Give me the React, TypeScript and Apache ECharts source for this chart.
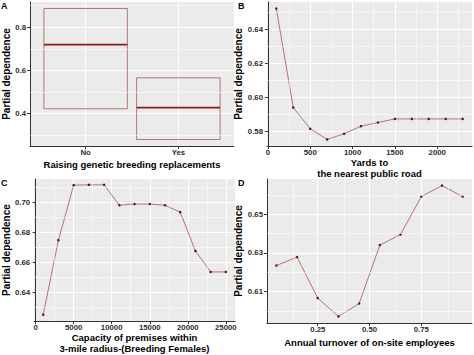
import React, { useEffect, useRef } from "react";
import * as echarts from "echarts";

// Panel A: raising genetic breeding replacements
const categoriesA = ["No", "Yes"];
const boxLowA = [0.423, 0.281];
const boxHighA = [0.886, 0.566];
const boxMidA = [0.719, 0.428];

// Panel B: yards to the nearest public road
const yardsB = [100, 300, 500, 700, 900, 1100, 1300, 1500, 1700, 1900, 2100, 2300];
const pdB = [0.6524, 0.5939, 0.5814, 0.5751, 0.5784, 0.5829, 0.5851, 0.5872, 0.5872, 0.5872, 0.5872, 0.5872];

// Panel C: capacity of premises within 3-mile radius
const capacityC = [1000, 3000, 5000, 7000, 9000, 11000, 13000, 15000, 17000, 19000, 21000, 23000, 25000];
const pdC = [0.6253, 0.675, 0.7117, 0.7119, 0.7119, 0.6983, 0.6991, 0.6991, 0.6983, 0.6937, 0.6678, 0.6538, 0.6538];

// Panel D: annual turnover of on-site employees
const turnoverD = [0.05, 0.15, 0.25, 0.35, 0.45, 0.55, 0.65, 0.75, 0.85, 0.95];
const pdD = [0.6234, 0.6278, 0.6066, 0.5971, 0.6038, 0.634, 0.6395, 0.6591, 0.6648, 0.6591];

// Tick labels
const yTicksA = [0.4, 0.6, 0.8];
const yMinorA = [0.3, 0.5, 0.7, 0.9];
const xTicksA = [1, 2];
const yTicksB = [0.58, 0.6, 0.62, 0.64];
const yMinorB = [0.57, 0.59, 0.61, 0.63, 0.65];
const xTicksB = [0, 500, 1000, 1500, 2000];
const xMinorB = [250, 750, 1250, 1750, 2250];
const yTicksC = [0.64, 0.66, 0.68, 0.7];
const yMinorC = [0.63, 0.65, 0.67, 0.69, 0.71];
const xTicksC = [0, 5000, 10000, 15000, 20000, 25000];
const xMinorC = [2500, 7500, 12500, 17500, 22500];
const yTicksD = [0.61, 0.63, 0.65];
const yMinorD = [0.6, 0.62, 0.64, 0.66];
const xTicksD = [0.25, 0.5, 0.75];
const xMinorD = [0.125, 0.375, 0.625, 0.875];

const FONT = "'Liberation Sans', Arial, sans-serif";
const TICK_COLOR = "#2b2b2b";
const TITLE_SIZE = 9.5;
const LINE_COLOR = "#B8736E";
const POINT_COLOR = "#4A1C1C";

function xAxisOf(idx: number, min: number, max: number, ticks: number[], name: string, nameGap: number, fmt: (v: number) => string) {
  return {
    type: "value",
    gridIndex: idx,
    min,
    max,
    name,
    nameLocation: "middle",
    nameGap,
    nameTextStyle: { fontFamily: FONT, fontWeight: "bold", fontSize: TITLE_SIZE, color: "#000", lineHeight: 11 },
    axisLine: { show: true, lineStyle: { color: "#333", width: 1 } },
    axisTick: { show: true, length: 3, lineStyle: { color: "#333" }, customValues: ticks },
    axisLabel: { customValues: ticks, formatter: fmt, fontFamily: FONT, fontWeight: "bold", fontSize: 7.8, color: TICK_COLOR, margin: 2 },
    splitLine: { show: true, lineStyle: { color: "#ffffff", width: 1 } },
  };
}

function yAxisOf(idx: number, min: number, max: number, ticks: number[], fmt: (v: number) => string) {
  return {
    type: "value",
    gridIndex: idx,
    min,
    max,
    name: "Partial dependence",
    nameLocation: "middle",
    nameRotate: 90,
    nameGap: 17,
    nameTextStyle: { fontFamily: FONT, fontWeight: "bold", fontSize: 10, color: "#000" },
    axisLine: { show: true, lineStyle: { color: "#333", width: 1 } },
    axisTick: { show: true, length: 3, lineStyle: { color: "#333" }, customValues: ticks },
    axisLabel: { customValues: ticks, formatter: fmt, fontFamily: FONT, fontWeight: "bold", fontSize: 7.8, color: TICK_COLOR, margin: 4 },
    splitLine: { show: true, lineStyle: { color: "#ffffff", width: 1 } },
  };
}

function minorGrid(idx: number, xMinor: number[], yMinor: number[]) {
  return {
    type: "line",
    xAxisIndex: idx,
    yAxisIndex: idx,
    data: [],
    z: 1,
    silent: true,
    markLine: {
      silent: true,
      symbol: ["none", "none"],
      label: { show: false },
      lineStyle: { color: "#ffffff", width: 0.5, type: "solid" },
      emphasis: { disabled: true },
      data: [...xMinor.map((v) => ({ xAxis: v })), ...yMinor.map((v) => ({ yAxis: v }))],
    },
  };
}

function lineSeries(idx: number, xs: number[], ys: number[]) {
  return {
    type: "line",
    xAxisIndex: idx,
    yAxisIndex: idx,
    z: 3,
    data: xs.map((x, i) => [x, ys[i]]),
    symbol: "circle",
    symbolSize: 2.5,
    showSymbol: true,
    itemStyle: { color: POINT_COLOR },
    lineStyle: { color: LINE_COLOR, width: 1 },
  };
}

const fmt2 = (v: number) => v.toFixed(2);

export default function App() {
  const ref = useRef<HTMLDivElement>(null);
  useEffect(() => {
    if (!ref.current) return;
    const chart = echarts.init(ref.current, null, { renderer: "svg" });
    const boxData = categoriesA.map((_, i) => [xTicksA[i], boxLowA[i], boxHighA[i], boxMidA[i]]);
    const option: any = {
      animation: false,
      backgroundColor: "#ffffff",
      grid: [
        { left: 30, top: 2, width: 204, height: 144, show: true, backgroundColor: "#EBEBEB", borderWidth: 0 },
        { left: 267, top: 2, width: 205, height: 144, show: true, backgroundColor: "#EBEBEB", borderWidth: 0 },
        { left: 30, top: 179, width: 205, height: 144, show: true, backgroundColor: "#EBEBEB", borderWidth: 0 },
        { left: 267, top: 179, width: 205, height: 144, show: true, backgroundColor: "#EBEBEB", borderWidth: 0 },
      ],
      xAxis: [
        xAxisOf(0, 0.4, 2.6, xTicksA, "Raising genetic breeding replacements", 13, (v: number) => categoriesA[Math.round(v) - 1] ?? ""),
        xAxisOf(1, -10, 2410, xTicksB, "Yards to\nthe nearest public road", 10, (v: number) => String(v)),
        xAxisOf(2, -200, 26200, xTicksC, "Capacity of premises within\n3-mile radius-(Breeding Females)", 9, (v: number) => String(v)),
        xAxisOf(3, 0.005, 0.995, xTicksD, "Annual turnover of on-site employees", 14, fmt2),
      ],
      yAxis: [
        yAxisOf(0, 0.251, 0.916, yTicksA, (v: number) => v.toFixed(1)),
        yAxisOf(1, 0.5712, 0.6563, yTicksB, fmt2),
        yAxisOf(2, 0.621, 0.7158, yTicksC, fmt2),
        yAxisOf(3, 0.5937, 0.6682, yTicksD, fmt2),
      ],
      graphic: [
        { type: "text", left: 1, top: 1, style: { text: "A", fontFamily: FONT, fontWeight: "bold", fontSize: 9, fill: "#000" } },
        { type: "text", left: 238, top: 1, style: { text: "B", fontFamily: FONT, fontWeight: "bold", fontSize: 9, fill: "#000" } },
        { type: "text", left: 1, top: 178, style: { text: "C", fontFamily: FONT, fontWeight: "bold", fontSize: 9, fill: "#000" } },
        { type: "text", left: 238, top: 178, style: { text: "D", fontFamily: FONT, fontWeight: "bold", fontSize: 9, fill: "#000" } },
      ],
      series: [
        minorGrid(0, [], yMinorA),
        minorGrid(1, xMinorB, yMinorB),
        minorGrid(2, xMinorC, yMinorC),
        minorGrid(3, xMinorD, yMinorD),
        {
          type: "custom",
          xAxisIndex: 0,
          yAxisIndex: 0,
          z: 3,
          data: boxData,
          renderItem: (params: any, api: any) => {
            const x = api.value(0);
            const tl = api.coord([x - 0.45, api.value(2)]);
            const br = api.coord([x + 0.45, api.value(1)]);
            const ml = api.coord([x - 0.45, api.value(3)]);
            const mr = api.coord([x + 0.45, api.value(3)]);
            return {
              type: "group",
              children: [
                {
                  type: "rect",
                  shape: { x: tl[0], y: tl[1], width: br[0] - tl[0], height: br[1] - tl[1] },
                  style: { fill: "none", stroke: "#B07A76", lineWidth: 1 },
                },
                {
                  type: "line",
                  shape: { x1: ml[0], y1: ml[1], x2: mr[0], y2: mr[1] },
                  style: { stroke: "#8E1B1E", lineWidth: 1.8 },
                },
              ],
            };
          },
        },
        lineSeries(1, yardsB, pdB),
        lineSeries(2, capacityC, pdC),
        lineSeries(3, turnoverD, pdD),
      ],
    };
    chart.setOption(option);
    return () => chart.dispose();
  }, []);
  return <div ref={ref} style={{ position: "fixed", left: 0, top: 0, width: 474, height: 355 }} />;
}
